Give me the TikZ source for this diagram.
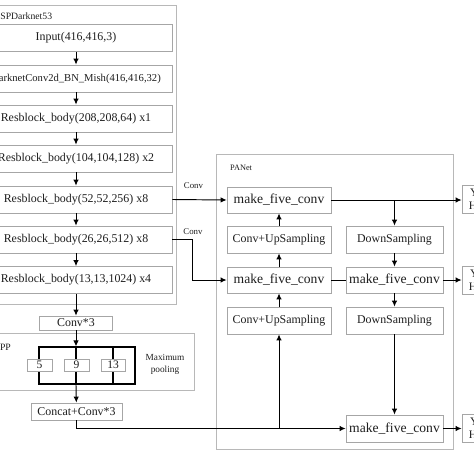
\documentclass[tikz,border=0pt]{standalone}
\usepackage{fontspec}
\setmainfont{Liberation Serif}
\usetikzlibrary{arrows.meta}
\definecolor{boxgray}{HTML}{A6A6A6}
\definecolor{framegray}{HTML}{B8B8B8}
\definecolor{txt}{HTML}{1E1E1E}
\begin{document}
\begin{tikzpicture}[x=1pt,y=-1pt,
  box/.style={draw=boxgray, line width=0.8pt, fill=white, inner sep=0pt, align=center, text=txt,
              font=\fontsize{11.9}{13}\selectfont},
  bb/.style={box, minimum width=192pt, minimum height=27pt},
  lbox/.style={box, minimum width=104pt, minimum height=27pt},
  rbox/.style={box, minimum width=97pt, minimum height=27pt},
  mfc/.style={font=\fontsize{13.6}{15}\selectfont},
  small/.style={box, minimum width=25pt, minimum height=12pt, font=\fontsize{11.5}{12}\selectfont},
  head/.style={box, minimum width=38pt, minimum height=28pt, font=\fontsize{11.5}{13}\selectfont},
  frame/.style={draw=framegray, line width=0.8pt},
  lbl/.style={text=txt, inner sep=0pt, font=\fontsize{8.8}{10}\selectfont},
  ttl/.style={text=txt, inner sep=0pt, anchor=base west, font=\fontsize{9.7}{11}\selectfont},
  conn/.style={draw=black, line width=0.95pt},
  arr/.style={conn, -{Latex[length=6pt,width=5.5pt]}}
]
\useasboundingbox (0,0) rectangle (474,474);
\clip (0,0) rectangle (474,474);

% frames
\draw[frame] (-30,5) rectangle (176,304);
\draw[frame] (-30,333) rectangle (194,390);
\draw[frame] (216,154) rectangle (453,449);
\node[ttl] (tcsp) at (-6.3,19) {CSPDarknet53};
\node[ttl] (tspp) at (-5.5,350) {SPP};
\node[ttl, font=\fontsize{8.3}{10}\selectfont] (tpan) at (230,170) {PANet};

% backbone
\node[bb] (input) at (76,38) {Input(416,416,3)};
\node[bb, font=\fontsize{10.6}{12}\selectfont] (dark) at (76,78.5) {DarknetConv2d\_BN\_Mish(416,416,32)};
\node[bb] (rb1) at (76,118.5) {Resblock\_body(208,208,64) x1};
\node[bb] (rb2) at (76,158.5) {Resblock\_body(104,104,128) x2};
\node[bb] (rb3) at (76,199.5) {Resblock\_body(52,52,256) x8};
\node[bb] (rb4) at (76,239.5) {Resblock\_body(26,26,512) x8};
\node[bb] (rb5) at (76,280) {Resblock\_body(13,13,1024) x4};

\draw[arr] (input) -- (dark);
\draw[arr] (dark) -- (rb1);
\draw[arr] (rb1) -- (rb2);
\draw[arr] (rb2) -- (rb3);
\draw[arr] (rb3) -- (rb4);
\draw[arr] (rb4) -- (rb5);

% SPP
\node[box, minimum width=73pt, minimum height=14pt] (conv3) at (76,323) {Conv*3};
\draw[arr] (rb5) -- (conv3);
\node[draw=black, line width=1.1pt, minimum width=96pt, minimum height=37pt, inner sep=0pt] (pool) at (87,365.5) {};
\coordinate (v9) at (76,0);
\coordinate (v13) at (113,0);
\draw[conn, line width=1.1pt] (v9 |- pool.north) -- (v9 |- pool.south);
\draw[conn, line width=1.1pt] (v13 |- pool.north) -- (v13 |- pool.south);
\draw[arr] (conv3) -- (v9 |- pool.north);
\node[small] (p5) at (39.5,365) {5};
\node[small] (p9) at (76.5,365) {9};
\node[small, minimum width=24pt] (p13) at (113,365) {13};
\node[lbl, align=center, font=\fontsize{9.3}{12}\selectfont] (maxp) at (165,364) {Maximum\\pooling};

\node[box, minimum width=91pt, minimum height=17pt] (concat) at (76.5,411.5) {Concat+Conv*3};
\draw[arr] (v9 |- pool.south) -- (concat);

% PANet
\node[lbox, mfc, minimum height=26pt] (m1) at (279,200) {make\_five\_conv};
\node[lbox] (up1) at (279,239.5) {Conv+UpSampling};
\node[rbox] (down1) at (394.5,239.5) {DownSampling};
\node[lbox, mfc, minimum height=26pt] (m2) at (279,280) {make\_five\_conv};
\node[rbox, mfc, minimum height=26pt] (m3) at (394.5,280) {make\_five\_conv};
\node[lbox] (up2) at (279,320.5) {Conv+UpSampling};
\node[rbox] (down2) at (394.5,320.5) {DownSampling};
\node[rbox, mfc] (m4) at (394.5,428.5) {make\_five\_conv};

% heads
\node[head] (h1) at (481,199) {Yolo\\Head};
\node[head] (h2) at (481,280) {Yolo\\Head};
\node[head] (h3) at (481,428.5) {Yolo\\Head};

% backbone to PANet
\draw[arr] (rb3.east) -- (m1.west);
\node[lbl] (c1) at (193.5,186) {Conv};
\coordinate (k) at (192,0);
\draw[arr] (rb4.east) -- (rb4.east -| k) -- (k |- m2.west) -- (m2.west);
\node[lbl] (c2) at (193,232) {Conv};
\draw[arr] (concat.south) |- (m4.west);
\draw[arr] (up2.south |- m4.west) -- (up2.south);

% PANet internal
\draw[arr] (up1) -- (m1);
\draw[arr] (m2) -- (up1);
\draw[arr] (up2) -- (m2);
\draw[arr] (m1.east) -- (h1.west |- m1.east);
\draw[arr] (down1.north |- m1.east) -- (down1.north);
\draw[conn] (m2.east) -- (m3.west);
\draw[arr] (down1) -- (m3);
\draw[arr] (m3.east) -- (h2.west);
\draw[arr] (m3) -- (down2);
\draw[arr] (down2) -- (m4);
\draw[arr] (m4.east) -- (h3.west);
\end{tikzpicture}
\end{document}
